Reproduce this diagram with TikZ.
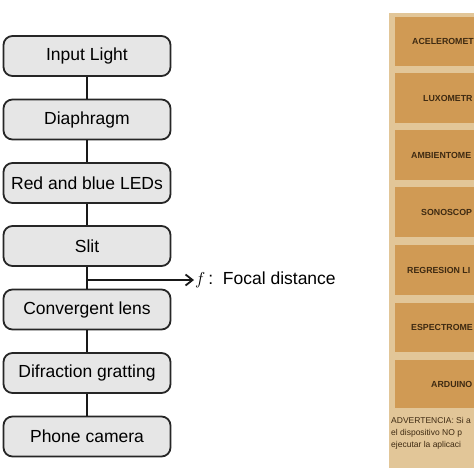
\documentclass[tikz,border=0pt]{standalone}
\usepackage{fontspec}
\setmainfont{Liberation Sans}
\usepackage{amsmath}
\usetikzlibrary{arrows.meta}

\definecolor{boxgray}{RGB}{230,230,230}
\definecolor{panel}{RGB}{226,198,152}
\definecolor{button}{RGB}{208,154,84}
\definecolor{ink}{RGB}{62,42,18}

\begin{document}
\begin{tikzpicture}[x=1pt,y=-1pt]

      \useasboundingbox (0,0) rectangle (474,474);
      \clip (0,0) rectangle (474,474);

      \begin{scope}[every node/.style={rectangle,rounded corners=9pt,draw=black!85,fill=boxgray,
          line width=1.8pt,minimum width=167pt,minimum height=40pt,
          font=\fontsize{17.5}{20}\selectfont}]
        \node (1) at (87,56) {Input Light};
        \node (2) at (87,119.5) {Diaphragm};
        \node (3) at (87,183) {Red and blue LEDs};
        \node (4) at (87,246) {Slit};
        \node (5) at (87,309.5) {Convergent lens};
        \node (6) at (87,373) {Difraction gratting};
        \node (7) at (87,436.5) {Phone camera};
      \end{scope}

      \begin{scope}[line width=2pt,draw=black!90,every edge/.style={draw}]
        \path (1) edge (2);
        \path (2) edge (3);
        \path (3) edge (4);
        \path (4) edge (5);
        \path (5) edge (6);
        \path (6) edge (7);
      \end{scope}

      \coordinate (f) at (87,280);
      \node[anchor=west,inner sep=1pt,font=\fontsize{17.5}{20}\selectfont] (focal) at (194,280)
        {$f$\,:\ \ Focal distance};
      \draw[line width=1.8pt,black!90,-{Straight Barb[length=7pt,width=11pt]}] (f) -- (focal.west);

      % screenshot on the right
      \fill[panel] (389,13) rectangle (474,468);
      \fill[button] (395,17) rectangle (480,66);
      \fill[button] (395,73) rectangle (480,123);
      \fill[button] (395,130) rectangle (480,180);
      \fill[button] (395,187) rectangle (480,237);
      \fill[button] (395,245) rectangle (480,295);
      \fill[button] (395,303) rectangle (480,352);
      \fill[button] (395,360) rectangle (480,408);

      \begin{scope}[every node/.style={anchor=west,inner sep=0pt,text=ink,
          font=\fontsize{8.8}{10}\selectfont\bfseries}]
        \node (acel) at (412,41.5) {ACELEROMET};
        \node (luxo) at (423,98) {LUXOMETR};
        \node (ambi) at (411,155) {AMBIENTOME};
        \node (sono) at (421,212) {SONOSCOP};
        \node (regr) at (407,270) {REGRESION LI};
        \node (espe) at (411,327.5) {ESPECTROME};
        \node (ardu) at (431,384) {ARDUINO};
      \end{scope}

      \node[anchor=north west,inner sep=0pt,align=left,text=ink,
        font=\fontsize{8.5}{12}\selectfont] (warn) at (391,417)
        {ADVERTENCIA: Si a\\el dispositivo NO p\\ejecutar la aplicaci};

    \end{tikzpicture}
\end{document}
